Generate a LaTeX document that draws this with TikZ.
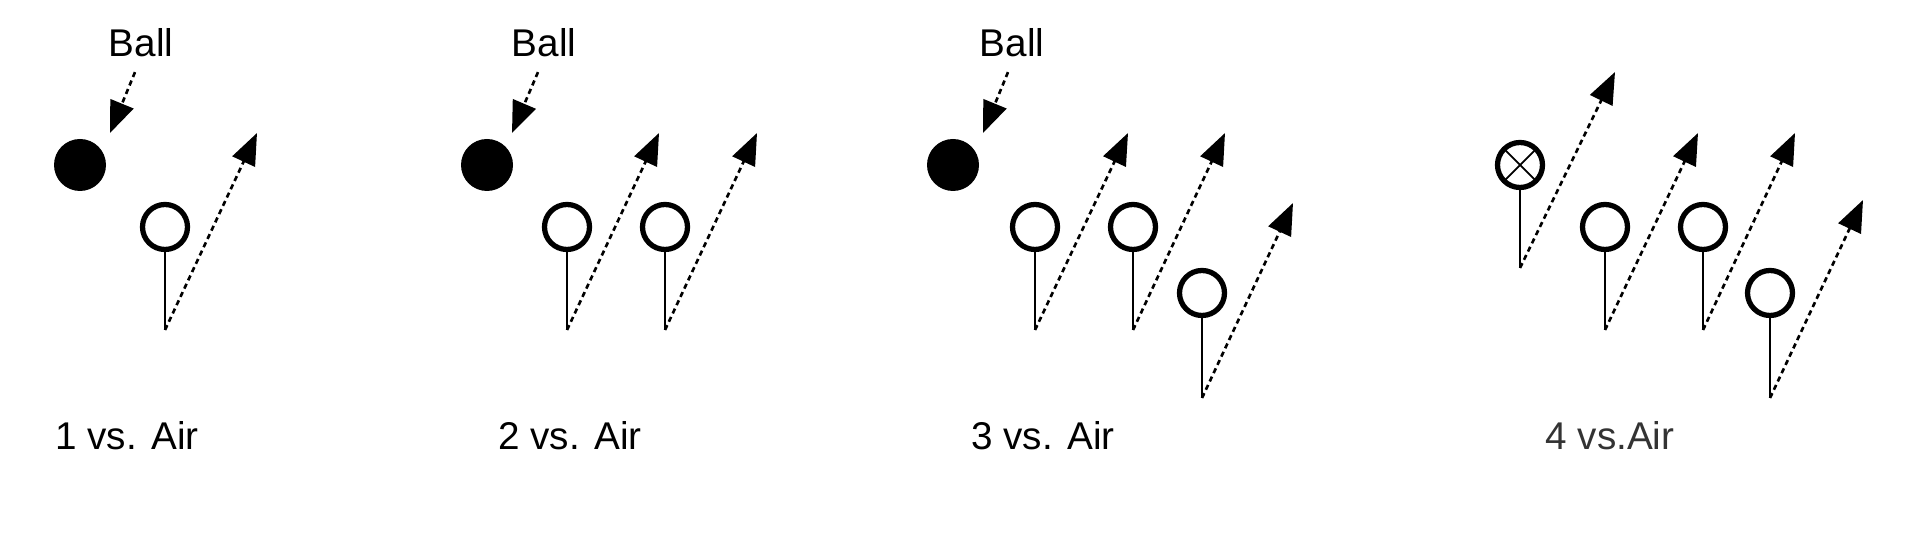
\documentclass[tikz,border=0pt]{standalone}
\usepackage{fontspec}
\setmainfont{Liberation Sans}
\usetikzlibrary{arrows.meta}

\tikzset{
  player/.style={circle, draw, line width=1.5pt, minimum size=4.5mm, inner sep=0pt},
  ballmark/.style={circle, fill, minimum size=5.2mm, inner sep=0pt},
  qbmark/.style={player, path picture={
      \draw[line width=0.5pt] (path picture bounding box.north west) -- (path picture bounding box.south east)
                              (path picture bounding box.north east) -- (path picture bounding box.south west);}},
  stem/.style={line width=0.8pt},
  route/.style={-{Triangle[length=9pt,width=7pt]}, line width=0.75pt, dash pattern=on 1.5pt off 1.1pt},
  lbl/.style={font=\fontsize{11}{13}\selectfont, anchor=base, inner sep=0pt},
}

\begin{document}
\begin{tikzpicture}[x=0.1mm, y=-0.1mm]
    \useasboundingbox (0,0) rectangle (1912,540);
    % 1 vs. Air
    \node[lbl] (balltxtA) at (141,57) {Ball};
    \node[ballmark] (ballA) at (80,165) {};
    \coordinate (ballptA) at (110,133);
    \draw[route] ([yshift=-4pt]balltxtA.south -| 135,0) -- (ballptA);
    \node[player] (a1) at (165,227) {};
    \coordinate (a1b) at (165,330);
    \coordinate (a1t) at (257,133);
    \draw[stem] (a1.south) -- (a1b);
    \draw[route] (a1b) -- (a1t);
    \node[lbl] (labA) at (127,450) {1 vs. Air};
    % 2 vs. Air
    \node[lbl] (balltxtB) at (544,57) {Ball};
    \node[ballmark] (ballB) at (487,165) {};
    \coordinate (ballptB) at (512,133);
    \draw[route] ([yshift=-4pt]balltxtB.south -| 538,0) -- (ballptB);
    \node[player] (b1) at (567,227) {};
    \coordinate (b1b) at (567,330);
    \coordinate (b1t) at (659,133);
    \draw[stem] (b1.south) -- (b1b);
    \draw[route] (b1b) -- (b1t);
    \node[player] (b2) at (665,227) {};
    \coordinate (b2b) at (665,330);
    \coordinate (b2t) at (757,133);
    \draw[stem] (b2.south) -- (b2b);
    \draw[route] (b2b) -- (b2t);
    \node[lbl] (labB) at (570,450) {2 vs. Air};
    % 3 vs. Air
    \node[lbl] (balltxtC) at (1012,57) {Ball};
    \node[ballmark] (ballC) at (953,165) {};
    \coordinate (ballptC) at (983,133);
    \draw[route] ([yshift=-4pt]balltxtC.south -| 1008,0) -- (ballptC);
    \node[player] (c1) at (1035,227) {};
    \coordinate (c1b) at (1035,330);
    \coordinate (c1t) at (1128,133);
    \draw[stem] (c1.south) -- (c1b);
    \draw[route] (c1b) -- (c1t);
    \node[player] (c2) at (1133,227) {};
    \coordinate (c2b) at (1133,330);
    \coordinate (c2t) at (1225,133);
    \draw[stem] (c2.south) -- (c2b);
    \draw[route] (c2b) -- (c2t);
    \node[player] (c3) at (1202,293) {};
    \coordinate (c3b) at (1202,398);
    \coordinate (c3t) at (1293,203);
    \draw[stem] (c3.south) -- (c3b);
    \draw[route] (c3b) -- (c3t);
    \node[lbl] (labC) at (1043,450) {3 vs. Air};
    % 4 vs. Air
    \node[qbmark] (d0) at (1520,165) {};
    \coordinate (d0b) at (1520,268);
    \coordinate (d0t) at (1615,72);
    \draw[stem] (d0.south) -- (d0b);
    \draw[route] (d0b) -- (d0t);
    \node[player] (d1) at (1605,227) {};
    \coordinate (d1b) at (1605,330);
    \coordinate (d1t) at (1698,133);
    \draw[stem] (d1.south) -- (d1b);
    \draw[route] (d1b) -- (d1t);
    \node[player] (d2) at (1703,227) {};
    \coordinate (d2b) at (1703,330);
    \coordinate (d2t) at (1795,133);
    \draw[stem] (d2.south) -- (d2b);
    \draw[route] (d2b) -- (d2t);
    \node[player] (d3) at (1770,293) {};
    \coordinate (d3b) at (1770,398);
    \coordinate (d3t) at (1863,200);
    \draw[stem] (d3.south) -- (d3b);
    \draw[route] (d3b) -- (d3t);
    \node[lbl, black!80] (labD) at (1610,450) {4 vs.Air};
\end{tikzpicture}
\end{document}
